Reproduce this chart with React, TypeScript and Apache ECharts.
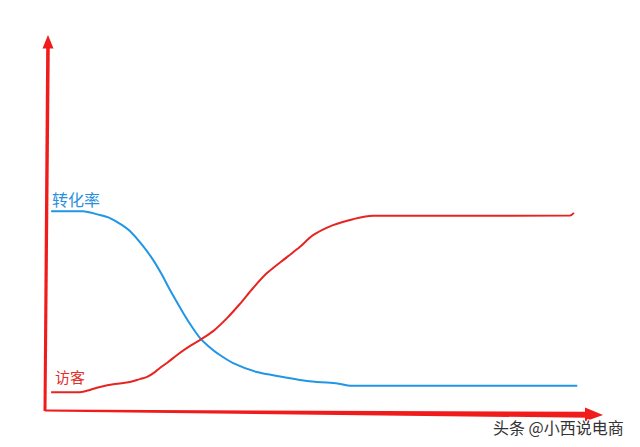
import React, { useEffect, useRef } from 'react';
import * as echarts from 'echarts';

// 横轴 0-100（时间进度），纵轴 0-100（相对值）
const rateX = [1.1, 6.8, 9.9, 11.7, 13.9, 15.3, 17.5, 19.5, 21.1, 22.5, 24.9, 26.5, 27.9, 29.4, 31.0, 33.9, 38.2, 42.9, 47.2, 51.4, 53.2, 55.0, 95.9];
const rateY = [53.4, 53.4, 52.4, 51.6, 49.7, 48.1, 44.4, 40.3, 36.3, 32.3, 26.1, 22.3, 19.4, 17.2, 15.3, 12.6, 10.2, 8.9, 7.8, 7.3, 7.0, 6.5, 6.5];

const visitorX = [1.1, 6.3, 8.1, 9.9, 12.6, 15.3, 17.1, 18.4, 19.8, 20.7, 22.2, 23.8, 25.8, 27.9, 30.3, 32.8, 35.1, 37.5, 40.0, 43.6, 45.9, 48.3, 51.9, 55.5, 59.1, 64.0, 94.6, 95.3];
const visitorY = [4.8, 4.8, 5.4, 6.2, 7.0, 7.5, 8.3, 8.9, 10.2, 11.3, 12.9, 14.8, 16.9, 18.8, 21.2, 24.7, 28.5, 32.8, 36.8, 41.1, 43.8, 47.0, 49.7, 51.3, 52.2, 52.2, 52.3, 53.0];

const seriesNames = ['转化率', '访客'];
const watermark = '头条 @小西说电商';

const AXIS_RED = '#f01c1c';
const BLUE = '#2196e6';
const RED = '#e62420';

const zip = (xs: number[], ys: number[]) => xs.map((x, i) => [x, ys[i]]);

const App = () => {
  const chartRef = useRef<HTMLDivElement>(null);

  useEffect(() => {
    document.body.style.margin = '0';
    let chart: echarts.ECharts | null = null;
    if (chartRef.current) {
      chart = echarts.init(chartRef.current, undefined, { renderer: 'svg' });
      const font = '"Noto Sans CJK SC", "Microsoft YaHei", sans-serif';
      const option: echarts.EChartsOption = {
        animation: false,
        backgroundColor: '#fff',
        grid: { left: 45, right: 40, top: 38, bottom: 37 },
        xAxis: { type: 'value', min: 0, max: 100, show: false },
        yAxis: { type: 'value', min: 0, max: 100, show: false },
        series: [
          {
            name: seriesNames[0],
            type: 'line',
            data: zip(rateX, rateY),
            showSymbol: false,
            smooth: 0.3,
            lineStyle: { color: BLUE, width: 2 },
            z: 3,
          },
          {
            name: seriesNames[1],
            type: 'line',
            data: zip(visitorX, visitorY),
            showSymbol: false,
            smooth: 0.3,
            lineStyle: { color: RED, width: 2 },
            z: 4,
          },
        ],
        graphic: [
          // 纵轴箭头
          {
            type: 'polygon',
            shape: { points: [[43.5, 411], [46.5, 411], [49.8, 46], [46.2, 46]] },
            style: { fill: AXIS_RED },
            z: 10,
          },
          {
            type: 'polygon',
            shape: { points: [[42.5, 48.5], [48, 35], [53.5, 48.5]] },
            style: { fill: AXIS_RED },
            z: 10,
          },
          // 横轴箭头
          {
            type: 'polygon',
            shape: { points: [[45, 409.5], [45, 411.5], [588, 417.8], [588, 411.8]] },
            style: { fill: AXIS_RED },
            z: 10,
          },
          {
            type: 'polygon',
            shape: { points: [[585, 407.5], [603, 415], [585, 421.5]] },
            style: { fill: AXIS_RED },
            z: 10,
          },
          {
            type: 'text',
            left: 52,
            top: 191,
            style: { text: seriesNames[0], fill: '#2b8fe0', font: `16px ${font}` },
            z: 10,
          },
          {
            type: 'text',
            left: 55,
            top: 369,
            style: { text: seriesNames[1], fill: '#e0302c', font: `15px ${font}` },
            z: 10,
          },
          {
            type: 'text',
            left: 492,
            top: 418,
            style: {
              text: watermark,
              fill: '#333',
              font: `16px ${font}`,
              stroke: '#fff',
              lineWidth: 2,
            },
            z: 10,
          },
        ],
      };
      chart.setOption(option);
    }
    return () => {
      chart?.dispose();
    };
  }, []);

  return <div ref={chartRef} style={{ width: '640px', height: '447px' }} />;
};

export default App;
